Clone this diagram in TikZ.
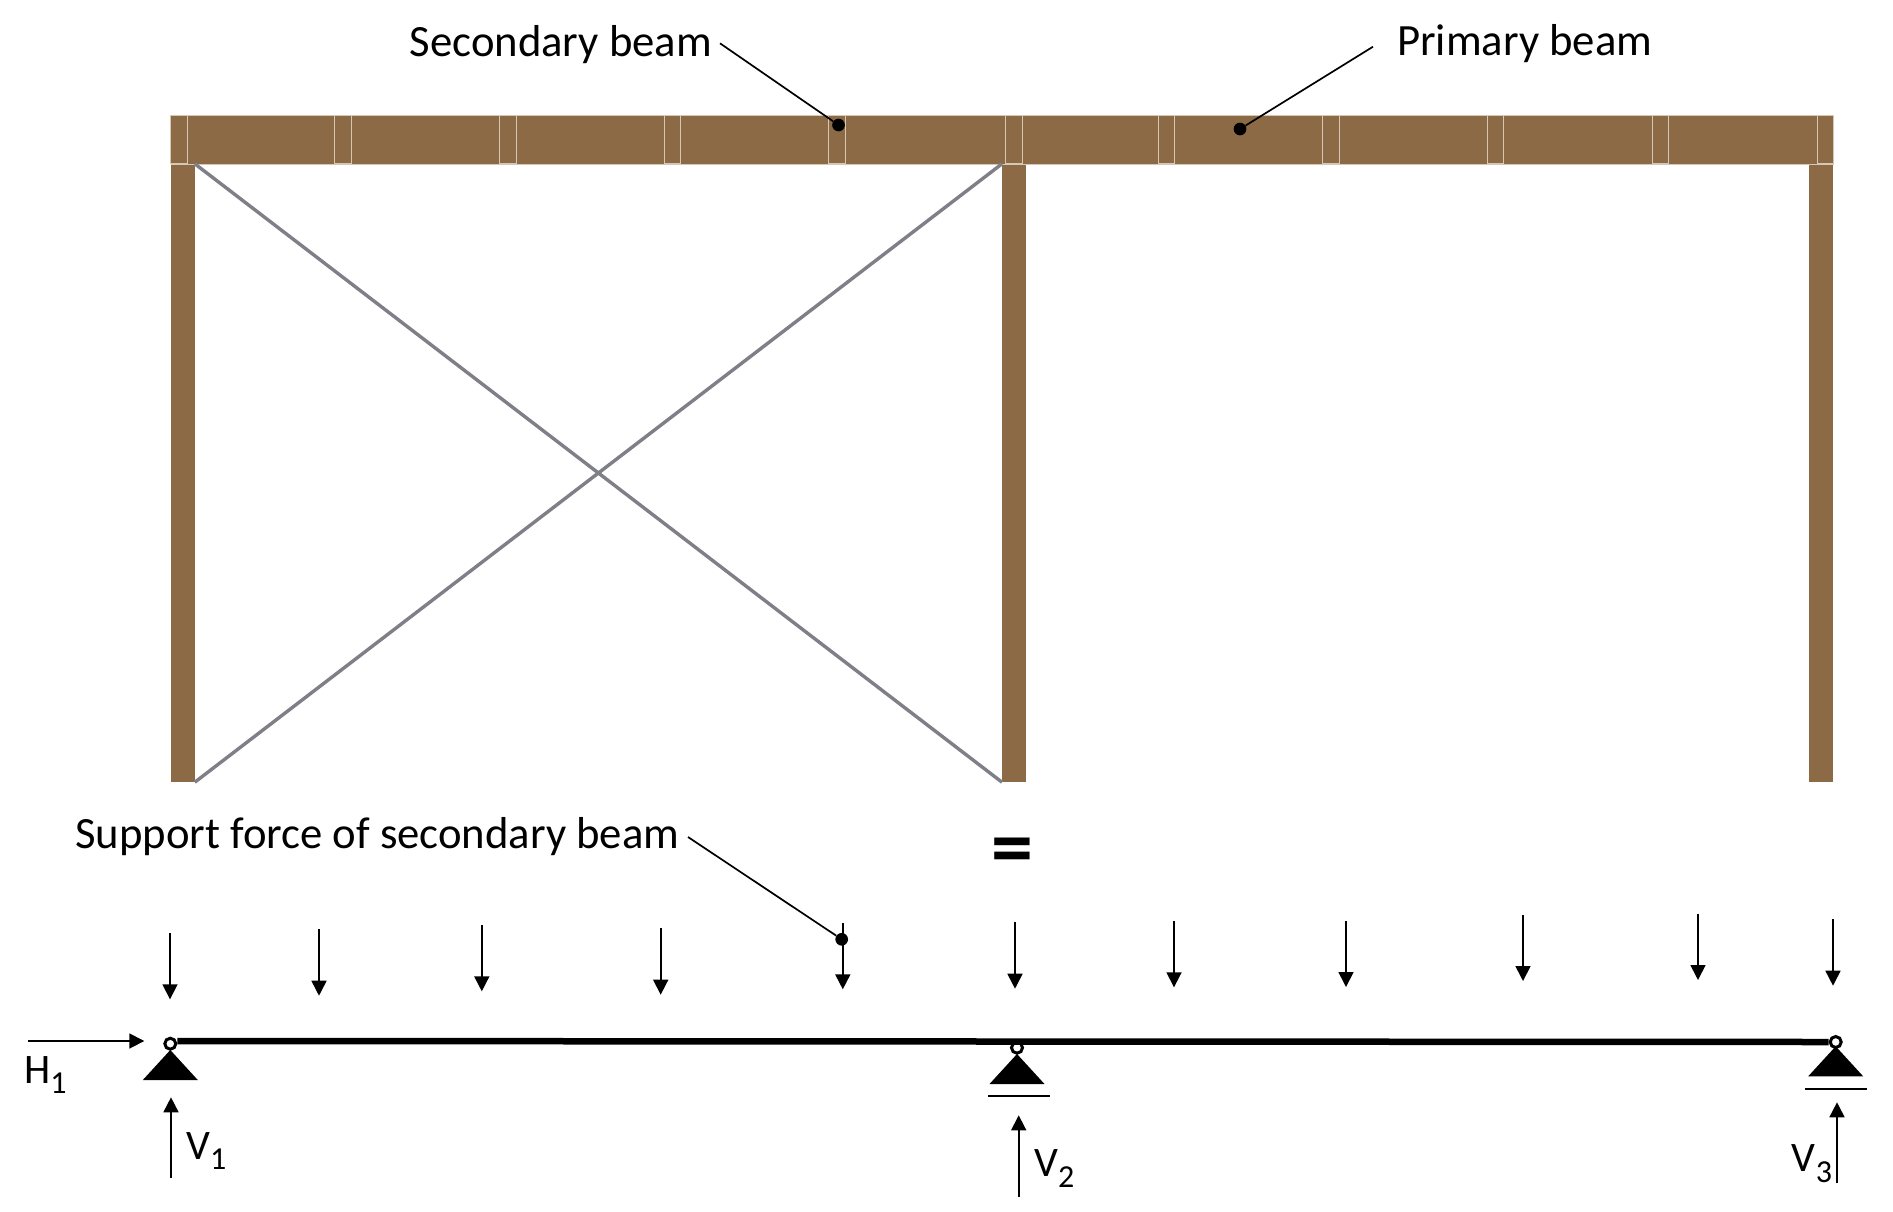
\documentclass[tikz,border=0pt]{standalone}
\usepackage{fontspec}
\setmainfont{Carlito}
\usetikzlibrary{shapes.geometric,arrows.meta,positioning}
\definecolor{timber}{HTML}{8C6A46}
\definecolor{seam}{HTML}{D6C8B4}
\definecolor{bracegray}{HTML}{7F7F87}
\newcommand{\lowidx}[1]{\raisebox{-10.5pt}{\fontsize{32}{32}\selectfont #1}}
\tikzstyle{txt}=[inner sep=0pt,anchor=base west,font=\fontsize{44.7}{52}\selectfont]
\tikzstyle{sym}=[inner sep=0pt,anchor=base west,font=\fontsize{42}{50}\selectfont]
\tikzstyle{post}=[fill=timber,inner sep=0pt,minimum width=24pt,minimum height=618pt]
\tikzstyle{beam}=[fill=timber,draw=seam,line width=.7pt,inner sep=0pt,minimum width=1662.6pt,minimum height=49.5pt]
\tikzstyle{joint}=[fill=timber,draw=seam,line width=1pt,inner sep=0pt,minimum width=16.5pt,minimum height=48.5pt]
\tikzstyle{brace}=[draw=bracegray,line width=3.4pt]
\tikzstyle{leader}=[line width=1.7pt]
\tikzstyle{dot}=[circle,fill=black,inner sep=0pt,minimum size=12.7pt]
\tikzstyle{force}=[line width=1.7pt,-{Triangle[length=15pt,width=15pt]}]
\tikzstyle{girder}=[line width=6.5pt]
\tikzstyle{pin}=[circle,draw,line width=3pt,fill=white,inner sep=0pt,minimum size=11pt]
\tikzstyle{wedge}=[isosceles triangle,isosceles triangle apex angle=85,shape border rotate=90,fill=black,inner sep=0pt,minimum height=30pt]
\tikzstyle{ground}=[line width=1.8pt]
\begin{document}
\begin{tikzpicture}[x=1pt,y=-1pt,node distance=1pt]
\useasboundingbox (0,0) rectangle (1893,1211);
\node (col1) [post] at (182.6,473){};
\node (col2) [post] at (1014.2,473){};
\node (col3) [post] at (1821.3,473){};
\node (beam) [beam] at (1002.3,139.6){};
\node (j0) [joint] at (179,139.3){};
\node (j1) [joint] at (343,139.3){};
\node (j2) [joint] at (508,139.3){};
\node (j3) [joint] at (672.6,139.3){};
\node (j4) [joint] at (837.2,139.3){};
\node (j5) [joint] at (1013.8,139.3){};
\node (j6) [joint] at (1166.3,139.3){};
\node (j7) [joint] at (1331.2,139.3){};
\node (j8) [joint] at (1495.5,139.3){};
\node (j9) [joint] at (1660.5,139.3){};
\node (j10) [joint] at (1825.3,139.3){};
\draw[brace] (col1.north east)--(col2.south west);
\draw[brace] (col1.south east)--(col2.north west);
\node (sec) [txt] at (409.5,56){Secondary beam};
\node (pri) [txt] at (1397,55){Primary beam};
\node (sup) [txt] at (75,848){Support force of secondary beam};
\node (eq) [inner sep=0pt,font=\bfseries\fontsize{84}{90}\selectfont] at (1012.8,857){=};
\node (secdot) [dot] at (838.5,125){};
\node (pridot) [dot] at (1240,129){};
\node (supdot) [dot] at (841.7,939.3){};
\coordinate (secend) at (720,43.3);
\coordinate (priend) at (1373,46.7);
\coordinate (supend) at (688,837);
\draw[leader] (secend)--(secdot);
\draw[leader] (priend)--(pridot);
\draw[leader] (supend)--(supdot);
\coordinate (f1a) at (170,933);
\coordinate (f1b) at (170,999.3);
\coordinate (f2a) at (319,929);
\coordinate (f2b) at (319,995.7);
\coordinate (f3a) at (481.8,925);
\coordinate (f3b) at (481.8,991.3);
\coordinate (f4a) at (660.7,928);
\coordinate (f4b) at (660.7,994.7);
\coordinate (f5a) at (842.8,923);
\coordinate (f5b) at (842.8,989.3);
\coordinate (f6a) at (1015,922);
\coordinate (f6b) at (1015,988.7);
\coordinate (f7a) at (1174,921);
\coordinate (f7b) at (1174,987.3);
\coordinate (f8a) at (1346,921);
\coordinate (f8b) at (1346,987);
\coordinate (f9a) at (1523,915);
\coordinate (f9b) at (1523,981);
\coordinate (f10a) at (1698,914);
\coordinate (f10b) at (1698,980);
\coordinate (f11a) at (1833,919);
\coordinate (f11b) at (1833,985.7);
\draw[force] (f1a)--(f1b);
\draw[force] (f2a)--(f2b);
\draw[force] (f3a)--(f3b);
\draw[force] (f4a)--(f4b);
\draw[force] (f5a)--(f5b);
\draw[force] (f6a)--(f6b);
\draw[force] (f7a)--(f7b);
\draw[force] (f8a)--(f8b);
\draw[force] (f9a)--(f9b);
\draw[force] (f10a)--(f10b);
\draw[force] (f11a)--(f11b);
\node (pin1) [pin] at (170.3,1043.7){};
\node (pin2) [pin] at (1017,1047.7){};
\node (pin3) [pin] at (1835.7,1042){};
\draw[girder] ([yshift=2.7pt]pin1.east)--(pin3.west);
\node (tri1) [wedge,below=-1pt of pin1]{};
\node (tri2) [wedge,below=-1pt of pin2]{};
\node (tri3) [wedge,below=-3pt of pin3]{};
\coordinate (g2a) at (988,1095.7);
\coordinate (g2b) at (1049.7,1095.7);
\coordinate (g3a) at (1805,1089);
\coordinate (g3b) at (1866.7,1089);
\draw[ground] (g2a)--(g2b);
\draw[ground] (g3a)--(g3b);
\coordinate (h1a) at (28,1041);
\coordinate (h1b) at (144.3,1041);
\coordinate (v1a) at (171,1178);
\coordinate (v1b) at (171,1097.3);
\coordinate (v2a) at (1018.7,1196.7);
\coordinate (v2b) at (1018.7,1115.3);
\coordinate (v3a) at (1837,1183);
\coordinate (v3b) at (1837,1102.3);
\draw[force] (h1a)--(h1b);
\draw[force] (v1a)--(v1b);
\draw[force] (v2a)--(v2b);
\draw[force] (v3a)--(v3b);
\node (h1) [sym] at (24,1083.3){H\lowidx{1}};
\node (v1) [sym] at (186,1159){V\lowidx{1}};
\node (v2) [sym] at (1034,1176.7){V\lowidx{2}};
\node (v3) [sym] at (1791.7,1171.7){V\lowidx{3}};
\end{tikzpicture}
\end{document}
